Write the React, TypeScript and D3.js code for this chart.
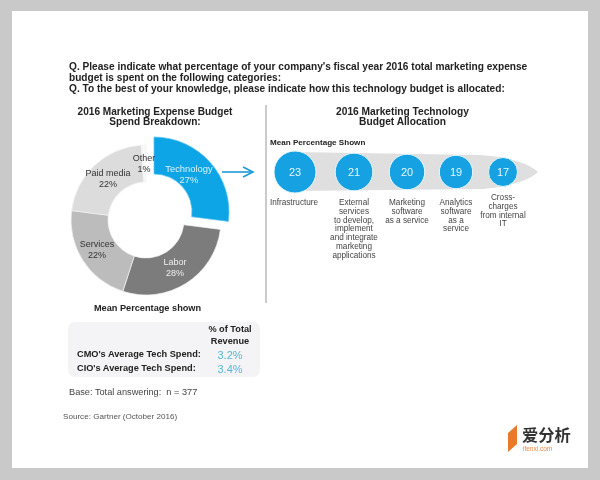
import * as d3 from "d3";

const SEGMENTS = ["Technology", "Labor", "Services", "Paid media", "Other"];
const SHARES = [27, 28, 22, 22, 1];
const SEG_COLORS = ["#0fa5e6", "#7b7b7b", "#bcbcbc", "#dcdcdc", "#f8f8f8"];
const SEG_TEXT = ["#d8f1fc", "#f0f0f0", "#333333", "#333333", "#333333"];
// label centre and first baseline per segment
const SEG_LABEL_POS = [
  [189, 172],
  [175, 265],
  [97, 247],
  [108, 176],
  [144, 161],
];

const TECH_VALUES = [23, 21, 20, 19, 17];
const TECH_LABELS = [
  ["Infrastructure"],
  ["External", "services", "to develop,", "implement", "and integrate", "marketing", "applications"],
  ["Marketing", "software", "as a service"],
  ["Analytics", "software", "as a", "service"],
  ["Cross-", "charges", "from internal", "IT"],
];

const QUESTIONS = [
  "Q. Please indicate what percentage of your company's fiscal year 2016 total marketing expense",
  "budget is spent on the following categories:",
  "Q. To the best of your knowledge, please indicate how this technology budget is allocated:",
];

const SPEND_ROWS = ["CMO's Average Tech Spend:", "CIO's Average Tech Spend:"];
const SPEND_VALUES = ["3.2%", "3.4%"];

const FONT = "Liberation Sans, Arial, sans-serif";

export default function App() {
  const pie = d3.pie<number>().sort(null)(SHARES);
  const arc = d3.arc<d3.PieArcDatum<number>>().innerRadius(38).outerRadius(75);
  // bubbles shrink left to right, so the spacing is not even
  const x = d3.scaleLinear().domain(d3.range(5)).range([295, 354, 407, 456, 503]);
  const r = d3.scaleLinear().domain([17, 23]).range([14.5, 21]);

  return (
    <svg
      width={600}
      height={480}
      viewBox="0 0 600 480"
      style={{ position: "absolute", left: 0, top: 0, fontFamily: FONT }}
    >
      <defs>
        <filter id="blur">
          <feGaussianBlur stdDeviation="0.4" />
        </filter>
      </defs>
      <rect width={600} height={480} fill="#c9c9c9" />
      <rect x={12} y={11} width={576} height={457} fill="#ffffff" />

      <g filter="url(#blur)">
        {QUESTIONS.map((q, i) => (
          <text key={i} x={69} y={69.5 + i * 11} fontSize={10.15} fontWeight="bold" fill="#222">
            {q}
          </text>
        ))}

        <text x={155} y={114.5} textAnchor="middle" fontSize={10.1} fontWeight="bold" fill="#222">
          2016 Marketing Expense Budget
        </text>
        <text x={155} y={125} textAnchor="middle" fontSize={10.1} fontWeight="bold" fill="#222">
          Spend Breakdown:
        </text>

        <line x1={266} y1={105} x2={266} y2={303} stroke="#a8a8a8" strokeWidth={1.2} />

        {pie.map((d, i) => (
          <path
            key={SEGMENTS[i]}
            d={arc(d) ?? ""}
            transform={i === 0 ? "translate(154,212)" : "translate(146,220)"}
            fill={SEG_COLORS[i]}
            stroke={i === 0 ? "#5cc4f0" : "#f2f2f2"}
            strokeWidth={0.7}
          />
        ))}
        {SEGMENTS.map((name, i) => (
          <g key={name} textAnchor="middle" fontSize={i === 0 ? 9.4 : 9} fill={SEG_TEXT[i]}>
            <text x={SEG_LABEL_POS[i][0]} y={SEG_LABEL_POS[i][1]}>{name}</text>
            <text x={SEG_LABEL_POS[i][0]} y={SEG_LABEL_POS[i][1] + (i === 4 ? 11 : 10.5)}>{SHARES[i]}%</text>
          </g>
        ))}

        <line x1={222} y1={172} x2={251} y2={172} stroke="#1f9ad6" strokeWidth={1.6} />
        <path d="M243,167 L253,172 L243,177" fill="none" stroke="#1f9ad6" strokeWidth={1.6} />

        <text x={402.5} y={114.5} textAnchor="middle" fontSize={10.2} fontWeight="bold" fill="#222">
          2016 Marketing Technology
        </text>
        <text x={402.5} y={125} textAnchor="middle" fontSize={10.2} fontWeight="bold" fill="#222">
          Budget Allocation
        </text>
        <text x={270} y={145} fontSize={8.1} fontWeight="bold" fill="#222">Mean Percentage Shown</text>

        <path
          d="M295,152 L480,155 C510,157 530,164 538,172 C530,180 510,187 480,189 L295,191 Z"
          fill="#dfdfdf"
        />
        {TECH_VALUES.map((v, i) => (
          <g key={v}>
            <circle cx={x(i)} cy={172} r={r(v)} fill="#12a2e2" stroke="#e8f6fd" strokeWidth={1} />
            <text x={x(i)} y={176} textAnchor="middle" fontSize={11} fill="#e8f7ff">{v}</text>
            {TECH_LABELS[i].map((line, j) => (
              <text
                key={j}
                x={x(i) + (i === 0 ? -1 : 0)}
                y={(i === 4 ? 200 : 205) + j * 8.8}
                textAnchor="middle"
                fontSize={8.2}
                fill="#444"
              >
                {line}
              </text>
            ))}
          </g>
        ))}

        <text x={147.5} y={311} textAnchor="middle" fontSize={9.2} fontWeight="bold" fill="#222">
          Mean Percentage shown
        </text>
        <rect x={68} y={322} width={192} height={55} rx={7} fill="#f4f4f6" />
        <text x={230} y={332} textAnchor="middle" fontSize={9.2} fontWeight="bold" fill="#222">% of Total</text>
        <text x={230} y={344} textAnchor="middle" fontSize={9.2} fontWeight="bold" fill="#222">Revenue</text>
        {SPEND_ROWS.map((row, i) => (
          <g key={row}>
            <text x={77} y={357 + i * 14} fontSize={9.2} fontWeight="bold" fill="#222">{row}</text>
            <text x={230} y={358.5 + i * 14} textAnchor="middle" fontSize={11} fill="#55b8d6">{SPEND_VALUES[i]}</text>
          </g>
        ))}
        <text x={69} y={395} fontSize={9.2} fill="#444" style={{ whiteSpace: "pre" }}>Base: Total answering:  n = 377</text>
        <text x={63} y={419} fontSize={8.1} fill="#555">Source: Gartner (October 2016)</text>

        <path d="M508,433 L517,425 L517,444 L508,452 Z" fill="#ea7a2a" />
        <text x={522} y={441} fontSize={16.3} fill="#333" fontFamily="Noto Sans CJK SC" fontWeight="bold">爱分析</text>
        <text x={523} y={451} fontSize={6.5} fill="#e98a4a">ifenxi.com</text>
      </g>
    </svg>
  );
}
